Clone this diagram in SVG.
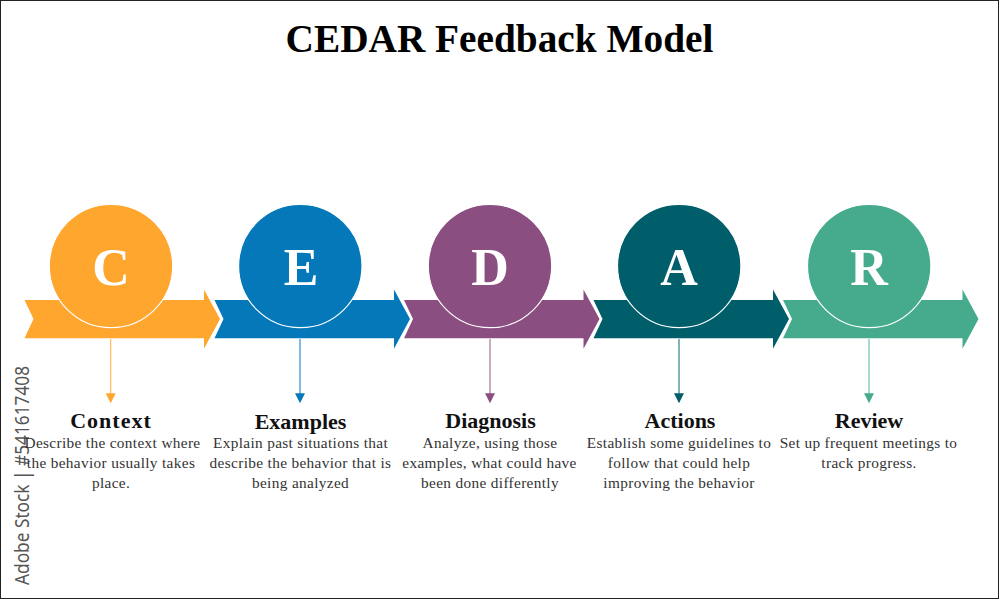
<svg xmlns="http://www.w3.org/2000/svg" width="1000" height="600" viewBox="0 0 1000 600">
<style>
text{font-family:"Liberation Serif","Times New Roman",serif;text-anchor:middle}
.title{font-size:39.300px;font-weight:700;fill:#000}
.letter{font-size:52px;font-weight:700;fill:#fff}
.head{font-size:22px;font-weight:700;fill:#111}
.body{font-size:15.300px;fill:#333;letter-spacing:.35px}
.ring{stroke:#fff;stroke-width:1.200}
.stamp{font-family:"Noto Sans","Liberation Sans",sans-serif;font-size:19.500px;fill:#555;text-anchor:start}
.c1{fill:#ffa62f}.c2{fill:#0478b8}.c3{fill:#8a4f80}.c4{fill:#005e6b}.c5{fill:#46ab8c}
.l1{stroke:#ffb95f}.l2{stroke:#2a90ca}.l3{stroke:#a1749a}.l4{stroke:#32808b}.l5{stroke:#6fbfa6}
.wire{fill:none;stroke-width:1.200}
</style>
<defs>
<path id="arrow" d="M0 300H179.500V289.500L195.500 319 179.500 348.800V338.300H0L9 319Z"/>
<path id="tip" d="M-5 0H5L0 10Z"/>
</defs>
<rect width="1000" height="600" fill="#fff"/>
<rect x=".5" y=".5" width="998" height="598" fill="none" stroke="#222"/>
<text class="title" x="499.500" y="52">CEDAR Feedback Model</text>
<text class="stamp" transform="translate(29 585) rotate(-90)" textLength="219" lengthAdjust="spacingAndGlyphs">Adobe Stock | #541617408</text>
<g id="connectors">
<path class="wire l1" d="M110.700 339V394"/><use href="#tip" class="c1" x="110.700" y="393.300"/>
<path class="wire l2" d="M300 339V394"/><use href="#tip" class="c2" x="300" y="393.300"/>
<path class="wire l3" d="M490 339V394"/><use href="#tip" class="c3" x="490" y="393.300"/>
<path class="wire l4" d="M679 339V394"/><use href="#tip" class="c4" x="679" y="393.300"/>
<path class="wire l5" d="M869 339V394"/><use href="#tip" class="c5" x="869" y="393.300"/>
</g>
<g id="node-c">
<use href="#arrow" class="c1" x="24.500"/><circle class="c1 ring" cx="111" cy="266" r="61.700"/>
<text class="letter" x="111" y="285">C</text>
<text class="head" x="111" y="427.500" style="letter-spacing:1px">Context</text>
<text class="body" x="112.500" y="447.500">Describe the context where</text>
<text class="body" x="111" y="467.500">the behavior usually takes</text>
<text class="body" x="111" y="487.500">place.</text>
</g>
<g id="node-e">
<use href="#arrow" class="c2" x="214.500"/><circle class="c2 ring" cx="300.300" cy="266" r="61.700"/>
<text class="letter" x="301" y="285">E</text>
<text class="head" x="300.500" y="428.500">Examples</text>
<text class="body" x="300.500" y="447.500">Explain past situations that</text>
<text class="body" x="300.500" y="467.500">describe the behavior that is</text>
<text class="body" x="300.500" y="487.500">being analyzed</text>
</g>
<g id="node-d">
<use href="#arrow" class="c3" x="404"/><circle class="c3 ring" cx="490" cy="266" r="61.700"/>
<text class="letter" x="490" y="285">D</text>
<text class="head" x="490.500" y="428">Diagnosis</text>
<text class="body" x="490" y="447.500">Analyze, using those</text>
<text class="body" x="489.500" y="467.500">examples, what could have</text>
<text class="body" x="490" y="487.500">been done differently</text>
</g>
<g id="node-a">
<use href="#arrow" class="c4" x="593.500"/><circle class="c4 ring" cx="679.200" cy="266" r="61.700"/>
<text class="letter" x="679" y="285">A</text>
<text class="head" x="680" y="428">Actions</text>
<text class="body" x="679" y="447.500">Establish some guidelines to</text>
<text class="body" x="679" y="467.500">follow that could help</text>
<text class="body" x="679" y="487.500">improving the behavior</text>
</g>
<g id="node-r">
<use href="#arrow" class="c5" x="783"/><circle class="c5 ring" cx="869.200" cy="266" r="61.700"/>
<text class="letter" x="869" y="285">R</text>
<text class="head" x="869" y="427.500">Review</text>
<text class="body" x="868.500" y="447.500">Set up frequent meetings to</text>
<text class="body" x="869" y="467.500">track progress.</text>
</g>
</svg>
